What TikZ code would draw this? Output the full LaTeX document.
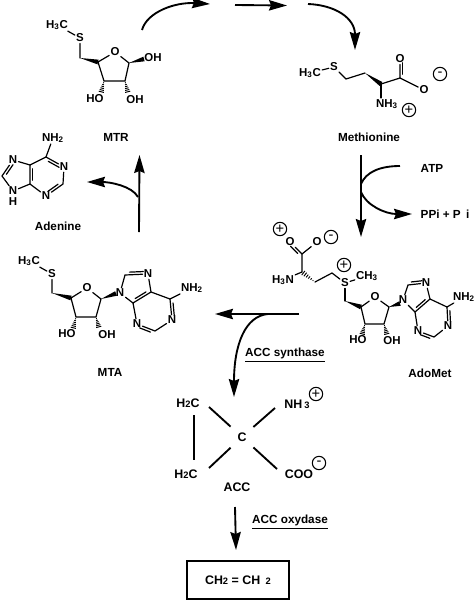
\documentclass[tikz,border=0pt]{standalone}
\usepackage{fontspec}
\setmainfont{Liberation Sans}
\usetikzlibrary{calc, arrows.meta}

\tikzset{
  bond/.style={line width=0.9pt, line cap=round},
  flow/.style={line width=1.4pt, -{Stealth[length=13.5pt,width=7.8pt,inset=1.5pt]}},
  branch/.style={line width=1.4pt},
  atom/.style={inner sep=0.8pt, font=\fontsize{8.6}{9}\selectfont\bfseries},
  accatom/.style={inner sep=0.8pt, font=\fontsize{9.3}{10}\selectfont\bfseries},
  accbond/.style={line width=1.4pt},
  label/.style={inner sep=0pt, font=\fontsize{8.8}{10}\selectfont\bfseries},
  charge/.style={circle, draw, line width=0.8pt, minimum size=10pt, inner sep=0pt, font=\fontsize{11}{11}\selectfont},
}
\newcommand{\lowd}[1]{\textsubscript{#1}}
\newcommand{\smalld}[1]{{\fontsize{7}{7}\selectfont #1}}
% second stroke of a double bond
\newcommand{\dbl}[3]{\draw[bond] ($(#1)!.2!(#2)!#3!90:(#2)$) -- ($(#2)!.2!(#1)!#3!-90:(#1)$);}
% solid wedge, wide at the second end
\newcommand{\wedgebond}[2]{\fill ($(#2)!1.8pt!90:(#1)$) -- ($(#2)!1.8pt!-90:(#1)$) -- (#1) -- cycle;}
% hashed wedge, wide at the second end
\newcommand{\hashbond}[2]{
  \foreach \t in {.15,.3,.45,.6,.75,.9} {
    \coordinate (hh) at ($(#1)!\t!(#2)$);
    \draw[line width=0.7pt] ($(hh)!{\t*2.2pt}!90:(#2)$) -- ($(hh)!{\t*2.2pt}!-90:(#2)$);
  }
}
% ring bonds of the purine base; atoms are placed before the call
\newcommand{\purine}[2]{
  \draw[bond] (#1c5) -- (#1c6) -- (#1n1) -- (#1c2) -- (#1n3) -- (#1c4) -- (#1c5);
  \draw[bond] (#1c5) -- (#1n7) -- (#1c8) -- (#1n9) -- (#1c4);
  \dbl{#1c6}{#1n1}{#22pt}
  \dbl{#1c2}{#1n3}{#22pt}
  \dbl{#1c4}{#1c5}{#22pt}
  \dbl{#1c8}{#1n7}{#22pt}
}
% ring bonds of the sugar
\newcommand{\furanose}[1]{
  \draw[bond] (#1a) -- (#1o) -- (#1b) -- (#1c) -- (#1d) -- (#1a);
}

\begin{document}
\begin{tikzpicture}[x=0.75pt, y=-0.75pt]
  \useasboundingbox (0,0) rectangle (474,600);

  % MTR
  \node[atom] (mtrme) at (57,25) {H\lowd{3}C};
  \node[atom] (mtrs) at (80,38) {S};
  \coordinate (mtrch) at (80,58);
  \coordinate (mtra) at (98,62);
  \node[atom] (mtro) at (115,52) {O};
  \coordinate (mtrb) at (129,63);
  \coordinate (mtrc) at (125,81);
  \coordinate (mtrd) at (104,81);
  \coordinate (mtrw) at (144,59);
  \coordinate (mtrhl) at (101,93);
  \coordinate (mtrhr) at (128,93);
  \node[atom] (mtroh) at (153,58) {OH};
  \node[atom] (mtrho) at (95,99) {HO};
  \node[atom] (mtroh2) at (135,100) {OH};
  \furanose{mtr}
  \draw[bond] (mtrme) -- (mtrs) -- (mtrch);
  \wedgebond{mtrch}{mtra}
  \wedgebond{mtrb}{mtrw}
  \hashbond{mtrd}{mtrhl}
  \hashbond{mtrc}{mtrhr}
  \node[label] (mtrname) at (116,137) {MTR};

  % top arrows
  \coordinate (topa) at (142,30);
  \coordinate (topb) at (210,4);
  \coordinate (topc) at (235,5);
  \coordinate (topd) at (287,5.5);
  \coordinate (tope) at (308,4);
  \coordinate (topf) at (355,50);
  \draw[flow] (topa) .. controls (147,12) and (175,2) .. (topb);
  \draw[flow] (topc) -- (topd);
  \draw[flow] (tope) .. controls (335,5) and (355,18) .. (topf);

  % Methionine
  \node[atom] (metme) at (310,73) {H\lowd{3}C};
  \node[atom] (mets) at (334,67) {S};
  \coordinate (metb) at (346,79);
  \coordinate (metg) at (365,73);
  \coordinate (metca) at (381,84);
  \coordinate (metc) at (400,78);
  \node[atom] (meto) at (400,59) {O};
  \node[atom] (metox) at (424,90) {O};
  \node[atom] (metn) at (387,104) {NH\lowd{3}};
  \node[charge] (metminus) at (440,74) {-};
  \node[charge] (metplus) at (409,110) {+};
  \draw[bond] (metme) -- (mets) -- (metb) -- (metg);
  \wedgebond{metg}{metca}
  \draw[bond] (metca) -- (metc) -- (meto);
  \dbl{metc}{meto}{-2pt}
  \draw[bond] (metc) -- (metox);
  \draw[bond] (metca) -- (metn.north -| metca);
  \node[label] (metname) at (369,137) {Methionine};

  % Methionine to AdoMet
  \coordinate (atpa) at (361,155);
  \coordinate (atpb) at (361,237);
  \coordinate (atpc) at (400,166);
  \coordinate (atpd) at (361,184);
  \coordinate (atpe) at (361,192);
  \coordinate (atpf) at (412,214);
  \draw[flow] (atpa) -- (atpb);
  \draw[branch] (atpc) .. controls (380,166) and (366,172) .. (atpd);
  \draw[flow] (atpe) .. controls (366,205) and (385,214) .. (atpf);
  \node[label] (atp) at (432,168) {ATP};
  \node[label] (ppi) at (445,214) {PPi + P\, i};

  % Adenine
  \node[atom] (adenh) at (53,138) {NH\lowd{2}};
  \coordinate (adec6) at (46,157);
  \node[atom] (aden1) at (64,167) {N};
  \coordinate (adec2) at (63,184);
  \node[atom] (aden3) at (46,196) {N};
  \coordinate (adec4) at (30,184);
  \coordinate (adec5) at (30,165);
  \node[atom] (aden7) at (13,160) {N};
  \coordinate (adec8) at (2,176);
  \node[atom] (aden9) at (13,191) {N};
  \node[atom] (adeh) at (13,202) {H};
  \purine{ade}{-}
  \draw[bond] (adec6) -- (adenh);
  \node[label] (adename) at (58,226) {Adenine};

  % MTA to Adenine and MTR
  \coordinate (upa) at (139,232);
  \coordinate (upb) at (139.5,155);
  \coordinate (upc) at (138,197);
  \coordinate (upd) at (87,182);
  \draw[flow] (upa) -- (upb);
  \draw[flow] (upc) .. controls (132,186) and (110,182) .. (upd);

  % MTA
  \node[atom] (mtame) at (29,261) {H\lowd{3}C};
  \node[atom] (mtas) at (52,274) {S};
  \coordinate (mtach) at (52,293);
  \coordinate (mtaa) at (71,298);
  \node[atom] (mtao) at (87,288) {O};
  \coordinate (mtab) at (101,299);
  \coordinate (mtac) at (96,317);
  \coordinate (mtad) at (76,317);
  \coordinate (mtahl) at (73,329);
  \coordinate (mtahr) at (99,328);
  \coordinate (mtaw) at (116,293.5);
  \node[atom] (mtaho) at (67,334) {HO};
  \node[atom] (mtaoh) at (107,335) {OH};
  \furanose{mta}
  \draw[bond] (mtame) -- (mtas) -- (mtach);
  \wedgebond{mtach}{mtaa}
  \wedgebond{mtab}{mtaw}
  \hashbond{mtad}{mtahl}
  \hashbond{mtac}{mtahr}
  \node[atom] (mtan9) at (120,293) {N};
  \coordinate (mtac8) at (125,275);
  \node[atom] (mtan7) at (148,274) {N};
  \coordinate (mtac5) at (151,292);
  \coordinate (mtac4) at (133,303);
  \node[atom] (mtan3) at (137,324) {N};
  \coordinate (mtac2) at (155,331);
  \node[atom] (mtan1) at (172,320) {N};
  \coordinate (mtac6) at (170,299);
  \node[atom] (mtanh) at (192,288) {NH\lowd{2}};
  \purine{mta}{}
  \draw[bond] (mtac6) -- (mtanh);
  \node[label] (mtaname) at (110,372) {MTA};

  % AdoMet to MTA and ACC
  \coordinate (synta) at (299,314);
  \coordinate (syntb) at (215,314);
  \coordinate (syntc) at (268,314);
  \coordinate (syntd) at (234,397);
  \draw[flow] (synta) -- (syntb);
  \draw[flow] (syntc) .. controls (245,316) and (234,345) .. (syntd);
  \node[label] (synt) at (285,355) {\underline{ACC synthase}};

  % AdoMet
  \node[charge] (adoplusa) at (280,229) {+};
  \node[atom] (adooa) at (290,242) {O};
  \node[atom] (adoob) at (317,242) {O};
  \node[charge] (adominus) at (331,237) {-};
  \coordinate (adocc) at (302,254);
  \coordinate (adoca) at (302,272);
  \node[atom] (adonh) at (283,280) {H\lowd{3}N};
  \coordinate (adob) at (315,282);
  \coordinate (adog) at (332,273);
  \node[atom] (adosu) at (345,283) {S};
  \node[charge] (adoplusb) at (344,265) {+};
  \node[atom] (adome) at (367,276) {CH\lowd{3}};
  \coordinate (adoch) at (345,301);
  \draw[bond] (adocc) -- (adooa);
  \dbl{adocc}{adooa}{2pt}
  \draw[bond] (adocc) -- (adoob);
  \draw[bond] (adocc) -- (adoca) -- (adonh);
  \hashbond{adob}{adoca}
  \draw[bond] (adob) -- (adog) -- (adosu) -- (adome);
  \draw[bond] (adosu) -- (adoch);
  \coordinate (adoa) at (361,307);
  \node[atom] (adoo) at (375,297) {O};
  \coordinate (adoe) at (389,307);
  \coordinate (adoc) at (384,324);
  \coordinate (adod) at (365,324);
  \coordinate (adohl) at (362,335);
  \coordinate (adohr) at (387,335);
  \coordinate (adow) at (400,303.5);
  \node[atom] (adoho) at (358,340) {HO};
  \node[atom] (adooh) at (392,341) {OH};
  \draw[bond] (adoa) -- (adoo) -- (adoe) -- (adoc) -- (adod) -- (adoa);
  \wedgebond{adoch}{adoa}
  \wedgebond{adoe}{adow}
  \hashbond{adod}{adohl}
  \hashbond{adoc}{adohr}
  \node[atom] (adon9) at (403,300) {N};
  \coordinate (adoc8) at (408,285);
  \node[atom] (adon7) at (426,283) {N};
  \coordinate (adoc5) at (430,299);
  \coordinate (adoc4) at (415,312);
  \node[atom] (adon3) at (418,331) {N};
  \coordinate (adoc2) at (434,337);
  \node[atom] (adon1) at (448,326) {N};
  \coordinate (adoc6) at (447,307);
  \node[atom] (adonhh) at (464,297) {NH\lowd{2}};
  \purine{ado}{}
  \draw[bond] (adoc6) -- (adonhh);
  \node[label] (adoname) at (430,373) {AdoMet};

  % ACC
  \node[accatom] (acch) at (188,403) {H\smalld{2}C};
  \node[accatom] (acchb) at (186,474) {H\smalld{2}C};
  \node[accatom] (accn) at (297,404) {NH\,\smalld{3}};
  \node[accatom] (acccoo) at (299,474) {COO};
  \node[accatom, inner sep=5pt] (accc) at (242,437) {C};
  \node[charge] (accplus) at (316,394) {+};
  \node[charge] (accminus) at (319,463) {-};
  \coordinate (accta) at (209,407);
  \coordinate (acctb) at (275,408);
  \coordinate (acctc) at (209,468);
  \coordinate (acctd) at (277,469);
  \coordinate (accve) at (194,415);
  \coordinate (accvf) at (194,460);
  \draw[accbond] (accc) -- (accta);
  \draw[accbond] (accc) -- (acctb);
  \draw[accbond] (accc) -- (acctc);
  \draw[accbond] (accc) -- (acctd);
  \draw[accbond] (accve) -- (accvf);
  \node[label, font=\fontsize{9.3}{10}\selectfont\bfseries] (accname) at (237,487) {ACC};

  % ACC to ethylene
  \node[draw, line width=1.4pt, minimum width=76pt, minimum height=28.5pt, inner sep=0pt, font=\fontsize{9.3}{10}\selectfont\bfseries] (ethylene) at (238,580) {CH\smalld{2} = CH\, \smalld{2}};
  \coordinate (oxya) at (235,507);
  \coordinate (oxyb) at (236,550);
  \draw[flow] (oxya) -- (oxyb);
  \node[label] (oxy) at (290,522) {\underline{ACC oxydase}};
\end{tikzpicture}
\end{document}
